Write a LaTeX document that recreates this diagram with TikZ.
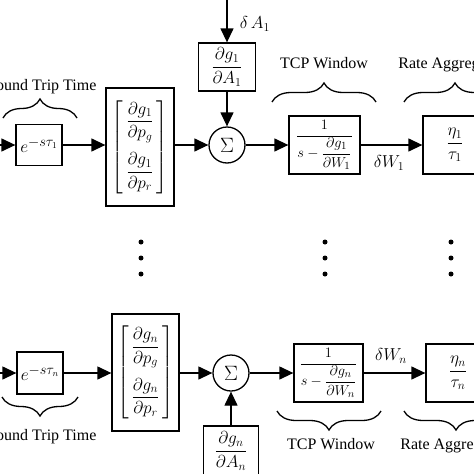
\documentclass[tikz,border=0pt]{standalone}
\usepackage{amsmath}
\usepackage{fontspec}
\setmainfont{Liberation Serif}
\usetikzlibrary{arrows.meta,decorations.pathreplacing}
\newcommand{\pcol}[1]{\left[\,\vcenter{\hbox{$\displaystyle\frac{\partial g_{#1}}{\partial p_g}$}\vskip 9pt\hbox{$\displaystyle\frac{\partial g_{#1}}{\partial p_r}$}}\,\right]}
\begin{document}
\begin{tikzpicture}[x=1pt,y=-1pt,
  blk/.style={draw, line width=1.3pt, inner sep=0pt, font=\fontsize{17}{20}\selectfont},
  eblk/.style={blk, font=\fontsize{19}{22}\selectfont},
  sblk/.style={blk, font=\fontsize{15}{18}\selectfont},
  sumc/.style={draw, circle, line width=1.3pt, minimum size=36pt, inner sep=0pt, font=\fontsize{20}{23}\selectfont},
  conn/.style={line width=1.3pt, -{Triangle[length=14pt,width=13pt]}},
  brc/.style={decorate, decoration={brace, amplitude=19pt, aspect=0.5}, line width=1.3pt},
  lbl/.style={font=\fontsize{16}{19}\selectfont},
  mlbl/.style={font=\fontsize{17}{20}\selectfont, inner sep=1pt},
  dotc/.style={circle, fill, inner sep=0pt, minimum size=5pt}]
\useasboundingbox (0,0) rectangle (474,474);
\clip (0,0) rectangle (474,474);
\fill[white] (0,0) rectangle (474,474);

% ---------- top row ----------
\coordinate (in1) at (-10,145);
\coordinate (top1) at (227,-5);
\node[eblk, minimum width=46pt, minimum height=41pt] (d1) at (39,145) {$e^{-s\tau_1}$};
\node[blk, minimum width=68pt, minimum height=118pt] (m1) at (140,147) {$\pcol{1}$};
\node[sumc] (s1) at (227,145) {$\Sigma$};
\node[blk, minimum width=57pt, minimum height=48pt] (a1) at (227,67) {$\dfrac{\partial g_1}{\partial A_1}$};
\node[sblk, minimum width=71pt, minimum height=58pt] (w1) at (324.5,145) {$\dfrac{1}{s-\dfrac{\partial g_1}{\partial W_1}}$};
\node[blk, minimum width=64pt, minimum height=58pt] (r1) at (455,145) {$\dfrac{\eta_1}{\tau_1}$};

\draw[conn] (in1) -- (d1.west);
\draw[conn] (d1.east) -- (d1.east -| m1.west);
\draw[conn] (m1.east |- s1.west) -- (s1.west);
\draw[conn] (top1) -- (a1.north);
\draw[conn] (a1.south) -- (s1.north);
\draw[conn] (s1.east) -- (w1.west);
\draw[conn] (w1.east) -- (r1.west);
\node[mlbl] (lw1) at (389,163) {$\delta W_1$};
\node[mlbl] (la1) at (255,24) {$\delta\,A_1$};

\draw[brc] (3,118) -- (77,118);
\draw[brc] (272,102) -- (376,102);
\draw[brc] (404,102) -- (506,102);
\node[lbl, anchor=base] (t1) at (41,90) {Round Trip Time};
\node[lbl, anchor=base] (t2) at (324,68) {TCP Window};
\node[lbl, anchor=base] (t3) at (455,68) {Rate Aggregation};

% ---------- dots ----------
\foreach \x/\n in {141/a,325/b,451/c}{
  \foreach \y/\m in {242/1,258/2,274/3}{
    \node[dotc] (dot\n\m) at (\x,\y) {};
  }
}

% ---------- bottom row ----------
\coordinate (in2) at (-10,373);
\node[eblk, minimum width=46pt, minimum height=42pt] (d2) at (40,373) {$e^{-s\tau_n}$};
\node[blk, minimum width=67pt, minimum height=117pt] (m2) at (145.5,372.5) {$\pcol{n}$};
\node[sumc] (s2) at (231,373) {$\Sigma$};
\node[blk, minimum width=55pt, minimum height=50pt] (a2) at (231,451) {$\dfrac{\partial g_n}{\partial A_n}$};
\node[sblk, minimum width=69pt, minimum height=58pt] (w2) at (328.5,373) {$\dfrac{1}{s-\dfrac{\partial g_n}{\partial W_n}}$};
\node[blk, minimum width=64pt, minimum height=58pt] (r2) at (458,373) {$\dfrac{\eta_n}{\tau_n}$};

\draw[conn] (in2) -- (d2.west);
\draw[conn] (d2.east) -- (d2.east -| m2.west);
\draw[conn] (m2.east |- s2.west) -- (s2.west);
\draw[conn] (a2.north) -- (s2.south);
\draw[conn] (s2.east) -- (w2.west);
\draw[conn] (w2.east) -- (r2.west);
\node[mlbl] (lw2) at (391,356) {$\delta W_n$};

\draw[brc] (78,397) -- (2,397);
\draw[brc] (381,411) -- (277,411);
\draw[brc] (508,411) -- (404,411);
\node[lbl, anchor=base] (b1) at (41,440) {Round Trip Time};
\node[lbl, anchor=base] (b2) at (331,449) {TCP Window};
\node[lbl, anchor=base] (b3) at (457,449) {Rate Aggregation};
\end{tikzpicture}
\end{document}
